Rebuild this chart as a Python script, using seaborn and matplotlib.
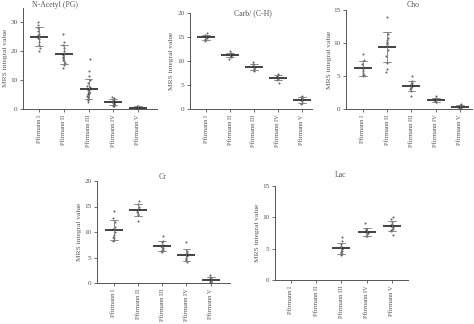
import numpy as np
import pandas as pd
import matplotlib
matplotlib.use("Agg")
import matplotlib.pyplot as plt
import seaborn as sns

categories = ["Pfirmann I", "Pfirmann II", "Pfirmann III", "Pfirmann IV", "Pfirmann V"]

# N-Acetyl (PG)
nacetyl_I = [30, 29, 28, 27, 26, 25.5, 24.5, 24, 23, 22, 21, 20]
nacetyl_II = [26, 23, 22, 21, 20, 19, 18.5, 18, 17.5, 17, 16.5, 16, 15, 14]
nacetyl_III = [17.3, 13, 11.5, 10, 9, 8, 7.5, 7, 7, 6.5, 6.5, 6, 6, 5.5, 5.5, 5, 5, 4.5, 4, 3.5, 3, 2.5]
nacetyl_IV = [4.3, 3.8, 3.3, 3, 2.7, 2.5, 2.3, 2.1, 2, 1.8, 1.6, 1.4, 1.2, 1]
nacetyl_V = [1.2, 1, 0.8, 0.6, 0.5, 0.4, 0.3, 0.2, 0.15, 0.1, 0.05]

# Carb/ (C-H)
carb_I = [15.8, 15.5, 15.2, 15, 14.9, 14.7, 14.5, 14.2]
carb_II = [12, 11.7, 11.5, 11.3, 11.2, 11, 10.8, 10.5]
carb_III = [9.8, 9.3, 9, 8.8, 8.6, 8.4, 8.2, 8]
carb_IV = [7.2, 7, 6.8, 6.7, 6.5, 6.3, 6, 5.5]
carb_V = [2.7, 2.4, 2.2, 2, 1.8, 1.6, 1.3, 1.0]

# Cho
cho_I = [8.4, 7.4, 6.8, 6.3, 6, 5.8, 5.5, 5.2, 5.1, 5]
cho_II = [14, 11.4, 10.8, 10.4, 10.2, 10, 9.8, 9.5, 9, 8, 7, 6, 5.6]
cho_III = [5, 4.3, 4, 3.8, 3.6, 3.5, 3.4, 3.2, 3, 2.8, 2]
cho_IV = [2, 1.7, 1.5, 1.4, 1.3, 1.2, 1.1, 1]
cho_V = [0.8, 0.6, 0.4, 0.3, 0.2, 0.1, 0.05, 0]

# Cr
cr_I = [14.2, 12.7, 12, 11, 10.5, 10, 9.5, 9, 8.8, 8.5, 8.2]
cr_II = [16, 15.5, 15, 14.6, 14.3, 14, 13.6, 13.4, 12.2]
cr_III = [9.3, 8.3, 8, 7.5, 7.2, 7, 6.8, 6.5, 6.2, 6]
cr_IV = [8, 6.2, 5.8, 5.5, 5.3, 5, 4.8, 4.5, 4.2]
cr_V = [1.6, 1.2, 1, 0.8, 0.6, 0.4, 0.3, 0.2, 0.1, 0]

# Lac (no data for grades I and II)
lac_I = []
lac_II = []
lac_III = [6.8, 6.2, 5.8, 5.4, 5.1, 4.9, 4.7, 4.5, 4.3, 4.1, 4]
lac_IV = [9.1, 8.2, 7.9, 7.7, 7.6, 7.5, 7.3, 7.1, 7]
lac_V = [10, 9.7, 9.3, 9, 8.8, 8.6, 8.4, 8.2, 8, 7.8, 7.2]

titles = ["N-Acetyl (PG)", "Carb/ (C-H)", "Cho", "Cr", "Lac"]
y_ticks = [[0, 10, 20, 30], [0, 5, 10, 15, 20], [0, 5, 10, 15], [0, 5, 10, 15, 20], [0, 5, 10, 15]]
ylabel = "MRS integral value"

panels = [
    [nacetyl_I, nacetyl_II, nacetyl_III, nacetyl_IV, nacetyl_V],
    [carb_I, carb_II, carb_III, carb_IV, carb_V],
    [cho_I, cho_II, cho_III, cho_IV, cho_V],
    [cr_I, cr_II, cr_III, cr_IV, cr_V],
    [lac_I, lac_II, lac_III, lac_IV, lac_V],
]

def frame(groups):
    rows = []
    for cat, vals in zip(categories, groups):
        for v in vals:
            rows.append((cat, v))
    return pd.DataFrame(rows, columns=["grade", "value"])

sns.set_style("ticks")
plt.rcParams["font.family"] = ["Liberation Serif", "DejaVu Serif"]
TXT = "#555555"

W, H = 474, 324
fig = plt.figure(figsize=(W / 100, H / 100), dpi=100)

layout = [
    dict(px=(23, 157, 7.5, 109), xlim=(-0.65, 4.77), ylim=(0, 35), tpos=(55, 5), ylx=6),
    dict(px=(190, 312, 13, 109), xlim=(-0.67, 4.42), ylim=(0, 20), tpos=(253, 13), ylx=171),
    dict(px=(346, 472, 10, 109), xlim=(-0.7, 4.5), ylim=(0, 15), tpos=(413, 5), ylx=329),
    dict(px=(97, 230, 181, 283), xlim=(-0.7, 4.8), ylim=(0, 20), tpos=(163, 177), ylx=79),
    dict(px=(275, 408, 186, 280), xlim=(-0.63, 4.64), ylim=(0, 15), tpos=(341, 175), ylx=257),
]

for i, (groups, lay) in enumerate(zip(panels, layout)):
    l, r, t, b = lay["px"]
    ax = fig.add_axes([l / W, 1 - b / H, (r - l) / W, (b - t) / H])
    df = frame(groups)
    sns.stripplot(data=df, x="grade", y="value", order=categories, ax=ax,
                  color="#444444", size=1.5, jitter=0.05, linewidth=0, alpha=0.8, zorder=2)
    sns.pointplot(data=df, x="grade", y="value", order=categories, ax=ax,
                  estimator="mean", errorbar="sd", linestyle="none",
                  markers="_", markersize=13, markeredgewidth=1.2,
                  color="#222222", capsize=0.32,
                  err_kws={"linewidth": 0.6, "color": "#777777"}, zorder=3)
    ax.set_xlim(*lay["xlim"])
    ax.set_ylim(*lay["ylim"])
    ax.set_yticks(y_ticks[i])
    ax.set_xticks(range(len(categories)))
    ax.set_xticklabels(categories, rotation=90, fontsize=4.7, color=TXT)
    ax.tick_params(axis="y", labelsize=5.2, labelcolor=TXT, length=2.5, width=0.6, color="#555555", pad=1.5)
    ax.tick_params(axis="x", length=2.5, width=0.6, color="#555555", pad=1.5)
    ax.set_xlabel("")
    ax.set_ylabel("")
    for s in ["top", "right"]:
        ax.spines[s].set_visible(False)
    for s in ["left", "bottom"]:
        ax.spines[s].set_linewidth(0.7)
        ax.spines[s].set_color("#555555")
    tx, ty = lay["tpos"]
    fig.text(tx / W, 1 - ty / H, titles[i], ha="center", va="center", fontsize=5.6, color=TXT)
    fig.text(lay["ylx"] / W, 1 - ((t + b) / 2) / H, ylabel, rotation=90,
             ha="center", va="center", fontsize=5.3, color=TXT)

fig.savefig("out.png", dpi=100)
